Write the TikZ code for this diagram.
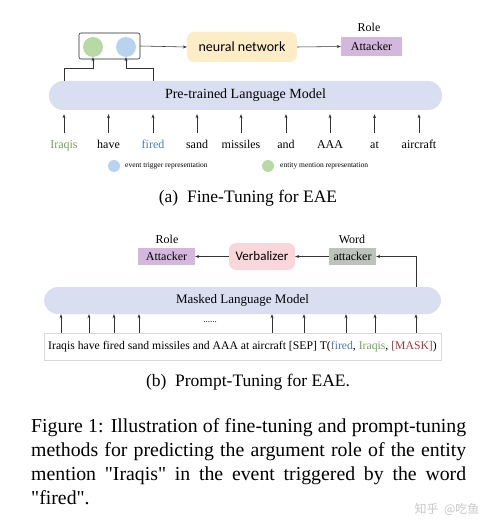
\documentclass[tikz,border=0pt]{standalone}
\usepackage{fontspec}
\setmainfont{Liberation Serif}
\newfontfamily\sansf{Carlito}
\newfontfamily\capfont{Liberation Serif}[Ligatures=TeXOff]
\newfontfamily\cjk{Noto Sans CJK SC}
\usetikzlibrary{arrows.meta}

\definecolor{entgreen}{HTML}{B6D9A6}
\definecolor{trgblue}{HTML}{B8D3EE}
\definecolor{txtgreen}{HTML}{6FA35A}
\definecolor{txtblue}{HTML}{4C78B8}
\definecolor{lmfill}{HTML}{D9DFF0}
\definecolor{nnfill}{HTML}{FDEDC6}
\definecolor{rolefill}{HTML}{D4B7DD}
\definecolor{verbfill}{HTML}{F8D6DA}
\definecolor{wordfill}{HTML}{BDC3BC}
\definecolor{maskred}{HTML}{A8343C}

\tikzset{
  arr/.style={-{Stealth[length=4pt,width=3pt]}, draw=black!80, line width=.55pt},
  lmbox/.style={fill=lmfill, rounded corners=14pt},
  word/.style={anchor=base, inner sep=2pt, text height=8.5pt, text depth=2.5pt,
    font=\fontsize{12}{14}\selectfont},
  rolebox/.style={minimum width=61pt, minimum height=19pt, inner sep=0pt,
    font=\fontsize{12}{14}\selectfont},
  sbox/.style={rounded corners=7pt, inner sep=0pt},
  dot/.style={circle, inner sep=0pt},
  lbl/.style={font=\fontsize{12}{14}\selectfont},
  subcap/.style={font=\fontsize{17.5}{20}\selectfont}
}

\begin{document}
\begin{tikzpicture}[x=1pt, y=-1pt]
\useasboundingbox (0,0) rectangle (499,532);

% (a) fine-tuning
\node[draw=black!85, line width=.6pt, rounded corners=2pt, minimum width=61pt, minimum height=26pt] (rep) at (109.5,46) {};
\node[dot, fill=entgreen, minimum size=20pt] (ent) at (93,47) {};
\node[dot, fill=trgblue, minimum size=20pt] (trg) at (126,47) {};
\node[sbox, fill=nnfill, minimum width=110pt, minimum height=30pt,
  font=\sansf\fontsize{14}{16}\selectfont] (nn) at (242,47) {neural network};
\node[rolebox, fill=rolefill] (role) at (371.5,46.5) {Attacker};
\node[lbl] (rolelbl) at (369,27) {Role};
\draw[arr] (rep.east) -- (nn.west);
\draw[arr] (nn.east) -- (role.west);

\node[lmbox, minimum width=393pt, minimum height=29pt, font=\fontsize{14}{16}\selectfont] (plm) at (245.5,95.5) {Pre-trained Language Model};

\node[word, text=txtgreen] (w1) at (64,148) {Iraqis};
\node[word] (w2) at (108.5,148) {have};
\node[word, text=txtblue] (w3) at (153,148) {fired};
\node[word] (w4) at (197,148) {sand};
\node[word] (w5) at (241,148) {missiles};
\node[word] (w6) at (286,148) {and};
\node[word] (w7) at (330,148) {AAA};
\node[word] (w8) at (374.5,148) {at};
\node[word] (w9) at (419,148) {aircraft};
\foreach \i in {1,...,9}
  \draw[arr, shorten <=4pt, shorten >=4pt] (w\i.north) -- (w\i |- plm.south);

\draw[arr] (w1 |- plm.north) -- ++(0,-13) -| (ent.south);
\draw[arr] (w3 |- plm.north) -- ++(0,-13) -| (trg.south);

\node[dot, fill=trgblue, minimum size=12pt] (lgtrg) at (114,166) {};
\node[anchor=west, inner sep=0pt, font=\fontsize{7.5}{9}\selectfont] (lgtrgtxt) at (125,166) {event trigger representation};
\node[dot, fill=entgreen, minimum size=12pt] (lgent) at (268,166) {};
\node[anchor=west, inner sep=0pt, font=\fontsize{7.5}{9}\selectfont] (lgenttxt) at (280,166) {entity mention representation};

\node[subcap] (capa) at (248,198) {(a)\ \ Fine-Tuning for EAE};

% (b) prompt-tuning
\node[lbl] (rolelbl2) at (167,239) {Role};
\node[rolebox, fill=rolefill, minimum width=57pt, minimum height=17pt] (role2) at (166.5,256.5) {Attacker};
\node[sbox, fill=verbfill, minimum width=66pt, minimum height=27pt,
  font=\sansf\fontsize{13}{15}\selectfont] (verb) at (262,256.5) {Verbalizer};
\node[lbl] (wordlbl) at (352,239) {Word};
\node[rolebox, fill=wordfill, minimum width=47pt, minimum height=17pt] (wrd) at (352.5,256.5) {attacker};

\node[lmbox, minimum width=397pt, minimum height=27pt, font=\fontsize{13}{15}\selectfont] (mlm) at (242.5,300.5) {Masked Language Model};
\node[draw=black!15, line width=.6pt, minimum width=397pt, minimum height=27pt, inner sep=0pt,
  font=\fontsize{11.7}{13}\selectfont] (inp) at (242.5,346.5)
  {Iraqis have fired sand missiles and AAA at aircraft [SEP] T(\textcolor{txtblue}{fired}, \textcolor{txtgreen}{Iraqis}, \textcolor{maskred}{[MASK]})};

\foreach \x in {61,89,114,139,272,304,346,375,416}
  \draw[arr] (\x,0 |- inp.north) -- (\x,0 |- mlm.south);
\node[font=\fontsize{9}{10}\selectfont] (dots) at (210,322) {......};

\draw[arr] (416,0 |- mlm.north) |- (wrd.east);
\draw[arr] (wrd.west) -- (verb.east);
\draw[arr] (verb.west) -- (role2.east);

\node[subcap] (capb) at (248,382) {(b)\ \ Prompt-Tuning for EAE.};

% figure caption
\node[anchor=north west, inner sep=0pt, text width=435pt, align=justify,
  font=\capfont\fontsize{19.8}{24}\selectfont] (figcap) at (31,418)
  {Figure 1: Illustration of fine-tuning and prompt-tuning\linebreak
   methods for predicting the argument role of the entity\linebreak
   mention "Iraqis" in the event triggered by the word\linebreak
   "fired".};
\node[text=black!22, font=\cjk\fontsize{12}{14}\selectfont] (mark) at (447,509) {知乎\ \ @吃鱼};
\end{tikzpicture}
\end{document}
